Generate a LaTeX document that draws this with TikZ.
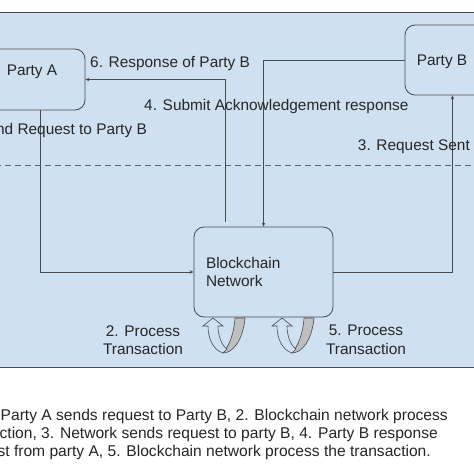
\documentclass[tikz,border=0pt]{standalone}
\usepackage{fontspec}
\setmainfont{Liberation Sans}
\usetikzlibrary{arrows.meta,positioning,calc}
\definecolor{panel}{RGB}{207,224,241}
\definecolor{ink}{RGB}{72,74,78}
\tikzset{box/.style={draw=ink, rounded corners=10pt, fill=panel, line width=0.8pt},
flow/.style={draw=ink, line width=0.7pt, -{Stealth[length=4pt,width=3.5pt]}},
lbl/.style={font=\fontsize{15.4}{18.5}\selectfont, inner sep=0pt, text=black!85}}

\begin{document}
\begin{tikzpicture}[x=1pt,y=-1pt]
        \useasboundingbox (0,0) rectangle (474,474);
        \clip (0,0) rectangle (474,474);
        \fill[white] (0,0) rectangle (474,474);
        \draw[ink, fill=panel, line width=0.8pt] (-5,12) rectangle (480,367);
        \draw[ink!85, line width=0.7pt, dash pattern=on 6pt off 4pt] (-5,165) -- (480,165);

        \node[box, minimum width=110pt, minimum height=61pt] (A) at (30,79.5) {};
        \node[lbl] (Atext) at (32,72) {Party A};
        \node[box, minimum width=95pt, minimum height=70pt] (B) at (452.5,60) {};
        \node[lbl] (Btext) at (442,62) {Party B};
        \node[box, lbl, draw=ink, inner xsep=12pt, text width=115pt, minimum height=90pt, align=left] (BC) at (263.5,272) {Blockchain\\Network};

        \coordinate (a1) at (40,0);
        \draw[flow] (A.south -| a1) |- (BC.west);
        \draw[flow, shorten <=5pt] ([xshift=-38.5pt]BC.north) |- (A.east);
        \draw[flow] (B.west) -| (BC.north);
        \draw[flow] (BC.east) -| (B.south);

        \node[lbl, anchor=west] (step6) at (90,64) {6. Response of Party B};
        \node[lbl, anchor=west] (step4) at (144,107) {4. Submit Acknowledgement response};
        \node[lbl, anchor=east] (step1) at (147,131) {1. Send Request to Party B};
        \node[lbl, anchor=east] (step3) at (470,147) {3. Request Sent};
        \node[lbl, align=center] (step2) at (143,340) {2. Process\\Transaction};
        \node[lbl, align=center] (step5) at (366,340) {5. Process\\Transaction};

        % loop arrows under the network box
        \foreach \x in {213,282} {
          \begin{scope}[shift={(\x,318)}]
            \draw[ink, fill=gray!50, line width=0.6pt] (22,0) -- (32,0) .. controls (30,22) and (20,35) .. (10,35) .. controls (16,28) and (21,16) .. (22,0);
            \draw[ink, fill=panel, line width=0.6pt] (10,35) .. controls (0,32) and (-5,20) .. (-5,8) -- (-10,8) -- (0,0) -- (10,8) -- (5,8) .. controls (5,18) and (9,28) .. (14,31) -- cycle;
          \end{scope}
        }

        \node[lbl, anchor=east, font=\fontsize{15.6}{18}\selectfont] (cap1) at (448,416) {1. Party A sends request to Party B, 2. Blockchain network process};
        \node[lbl, anchor=east, font=\fontsize{15.6}{18}\selectfont] (cap2) at (438,434) {transaction, 3. Network sends request to party B, 4. Party B response};
        \node[lbl, anchor=east, font=\fontsize{15.6}{18}\selectfont] (cap3) at (431,452) {request from party A, 5. Blockchain network process the transaction.};
\end{tikzpicture}
\end{document}
